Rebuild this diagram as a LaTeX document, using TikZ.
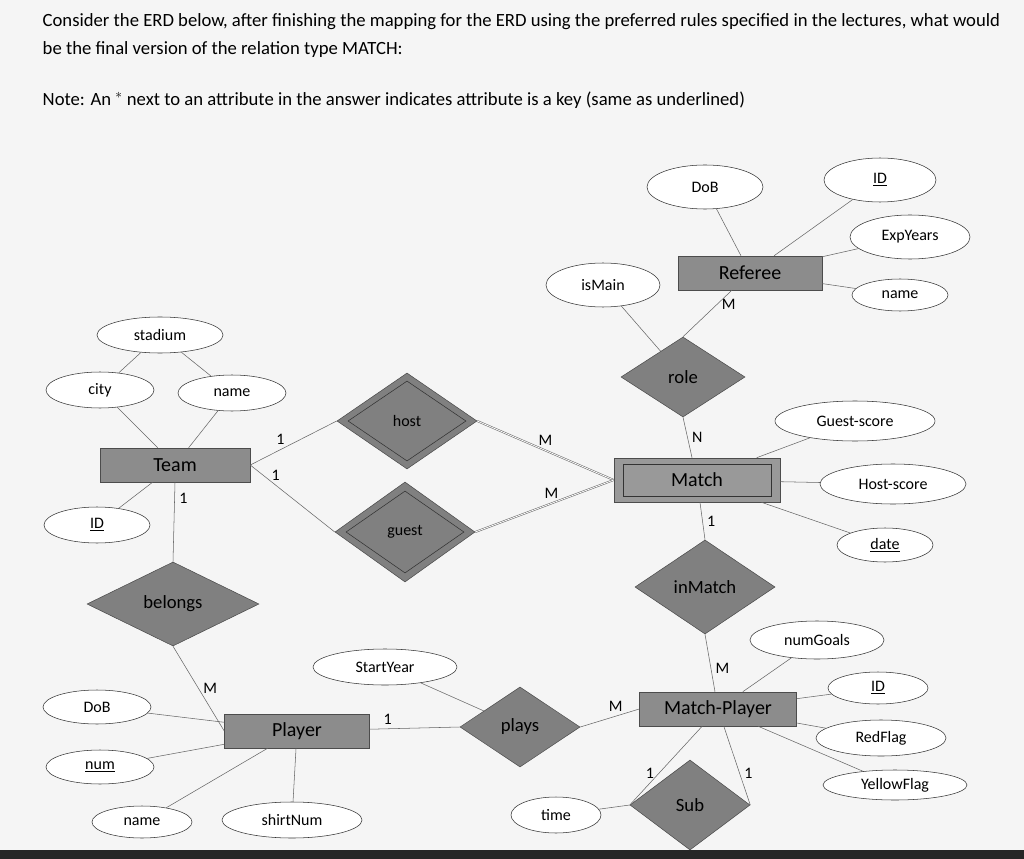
\documentclass[tikz,border=0pt]{standalone}
\usepackage{fontspec}
\setmainfont{Carlito}
\usetikzlibrary{shapes.geometric}
\begin{document}
\begin{tikzpicture}[x=0.75pt,y=-0.75pt,font=\fontsize{12}{14}\selectfont,
 ent/.style={draw=black!70,fill=black!45,minimum width=#1*0.75pt,minimum height=34*0.75pt,inner sep=0,font=\fontsize{15}{16}\selectfont},
 rel/.style={diamond,draw=black!70,fill=black!50,aspect=1.5,inner sep=0,font=\fontsize{14}{16}\selectfont},
 att/.style={ellipse,draw=black!80,fill=white,inner sep=0},
 ln/.style={draw=black!60},
 card/.style={font=\fontsize{12}{14}\selectfont}]
\fill[black!4] (0,0) rectangle (1024,859);
\useasboundingbox (0,0) rectangle (1024,859);
\fill[black!85] (0,850) rectangle (1024,859);
\node[anchor=west,font=\fontsize{14}{16}\selectfont] (q1) at (38,22) {Consider the ERD below, after finishing the mapping for the ERD using the preferred rules specified in the lectures, what would};
\node[anchor=west,font=\fontsize{14}{16}\selectfont] (q2) at (38,50) {be the final version of the relation type MATCH:};
\node[anchor=west,font=\fontsize{14}{16}\selectfont] (q3) at (38,100) {Note: An $^*$ next to an attribute in the answer indicates attribute is a key (same as underlined)};
% entities
\node[ent=144] (ref) at (750,273) {Referee};
\node[ent=166,minimum height=44*0.75pt,fill=black!40] (match) at (697,480) {};
\node[draw=black!80,minimum width=148*0.75pt,minimum height=32*0.75pt,font=\fontsize{15}{16}\selectfont] at (697,480) {Match};
\node[ent=150] (team) at (175,465) {Team};
\node[ent=145] (player) at (297,731) {Player};
\node[ent=157] (mp) at (718,709) {Match-Player};
% relationships
\node[rel,minimum width=140*0.75pt,minimum height=96*0.75pt] (host) at (407,421) {};
\node[diamond,draw=black!80,minimum width=118*0.75pt,minimum height=80*0.75pt,inner sep=0] at (407,421) {host};
\node[rel,minimum width=140*0.75pt,minimum height=100*0.75pt] (guest) at (405,532) {};
\node[diamond,draw=black!80,minimum width=118*0.75pt,minimum height=82*0.75pt,inner sep=0] at (405,532) {guest};
\node[rel,minimum width=124*0.75pt,minimum height=80*0.75pt] (role) at (683,377) {role};
\node[rel,minimum width=140*0.75pt,minimum height=94*0.75pt] (inm) at (705,587) {inMatch};
\node[rel,minimum width=172*0.75pt,minimum height=84*0.75pt] (bel) at (173,604) {belongs};
\node[rel,minimum width=120*0.75pt,minimum height=80*0.75pt] (plays) at (520,727) {plays};
\node[rel,minimum width=120*0.75pt,minimum height=90*0.75pt] (sub) at (690,805) {Sub};
% attributes
\node[att,minimum width=116*0.75pt,minimum height=44*0.75pt] (rdob) at (705,187) {DoB};
\node[att,minimum width=112*0.75pt,minimum height=44*0.75pt] (rid) at (880,180) {\underline{ID}};
\node[att,minimum width=120*0.75pt,minimum height=44*0.75pt] (rexp) at (910,237) {ExpYears};
\node[att,minimum width=96*0.75pt,minimum height=32*0.75pt] (rname) at (900,295) {name};
\node[att,minimum width=114*0.75pt,minimum height=44*0.75pt] (ismain) at (603,285) {isMain};
\node[att,minimum width=126*0.75pt,minimum height=36*0.75pt] (stad) at (160,335) {stadium};
\node[att,minimum width=108*0.75pt,minimum height=36*0.75pt] (city) at (100,390) {city};
\node[att,minimum width=108*0.75pt,minimum height=36*0.75pt] (tname) at (232,393) {name};
\node[att,minimum width=106*0.75pt,minimum height=36*0.75pt] (tid) at (97,525) {\underline{ID}};
\node[att,minimum width=160*0.75pt,minimum height=40*0.75pt] (gs) at (855,421) {Guest-score};
\node[att,minimum width=146*0.75pt,minimum height=40*0.75pt] (hs) at (893,484) {Host-score};
\node[att,minimum width=96*0.75pt,minimum height=34*0.75pt] (date) at (885,545) {\underline{date}};
\node[att,minimum width=134*0.75pt,minimum height=38*0.75pt] (ng) at (817,640) {numGoals};
\node[att,minimum width=100*0.75pt,minimum height=32*0.75pt] (mid) at (878,688) {\underline{ID}};
\node[att,minimum width=130*0.75pt,minimum height=36*0.75pt] (red) at (881,738) {RedFlag};
\node[att,minimum width=144*0.75pt,minimum height=30*0.75pt] (yel) at (895,785) {YellowFlag};
\node[att,minimum width=144*0.75pt,minimum height=36*0.75pt] (sy) at (385,667) {StartYear};
\node[att,minimum width=108*0.75pt,minimum height=34*0.75pt] (pdob) at (97,707) {DoB};
\node[att,minimum width=108*0.75pt,minimum height=34*0.75pt] (pnum) at (100,767) {\underline{num}};
\node[att,minimum width=100*0.75pt,minimum height=32*0.75pt] (pname) at (142,822) {name};
\node[att,minimum width=140*0.75pt,minimum height=36*0.75pt] (shirt) at (292,820) {shirtNum};
\node[att,minimum width=90*0.75pt,minimum height=36*0.75pt] (time) at (556,815) {time};
% lines
\begin{scope}[on background layer/.style={}]
\end{scope}
\draw[ln] (ref) -- (rdob); \draw[ln] (ref) -- (rid); \draw[ln] (ref) -- (rexp); \draw[ln] (ref) -- (rname);
\draw[ln] (ref) -- node[card,right,pos=0.3]{M} (role.north);
\draw[ln] (role) -- (ismain);
\draw[ln] (role.south) -- node[card,right,pos=0.5]{N} (match);
\draw[ln] (team) -- (city); \draw[ln] (team) -- (tname); \draw[ln] (team) -- (tid);
\draw[ln] (city) -- (stad); \draw[ln] (tname) -- (stad);
\draw[ln] (team.east) -- node[card,above,pos=0.35]{1} (host.west);
\draw[ln] (team.east) -- node[card,above,pos=0.3]{1} (guest.west);
\draw[ln,double] (host.east) -- node[card,above,pos=0.5]{M} (match.west);
\draw[ln,double] (guest.east) -- node[card,above,pos=0.55]{M} (match.west);
\draw[ln] (team.south) -- node[card,right,pos=0.2]{1} (bel.north);
\draw[ln] (bel.south) -- node[card,right,pos=0.5]{M} (player.west);
\draw[ln] (match) -- (gs); \draw[ln] (match) -- (hs); \draw[ln] (match) -- (date);
\draw[ln] (match) -- node[card,right,pos=0.5]{1} (inm.north);
\draw[ln] (inm.south) -- node[card,right,pos=0.6]{M} (mp);
\draw[ln] (mp) -- (ng); \draw[ln] (mp) -- (mid); \draw[ln] (mp) -- (red); \draw[ln] (mp) -- (yel);
\draw[ln] (player) -- node[card,above,pos=0.2]{1} (plays.west);
\draw[ln] (plays.east) -- node[card,above,pos=0.6]{M} (mp.west);
\draw[ln] (plays) -- (sy);
\draw[ln] (player) -- (pdob); \draw[ln] (player) -- (pnum); \draw[ln] (player) -- (pname); \draw[ln] (player) -- (shirt);
\draw[ln] (mp) -- node[card,left,pos=0.6]{1} (sub.west);
\draw[ln] (mp) -- node[card,right,pos=0.6]{1} (sub.east);
\draw[ln] (sub.west) -- (time);
\end{tikzpicture}
\end{document}
